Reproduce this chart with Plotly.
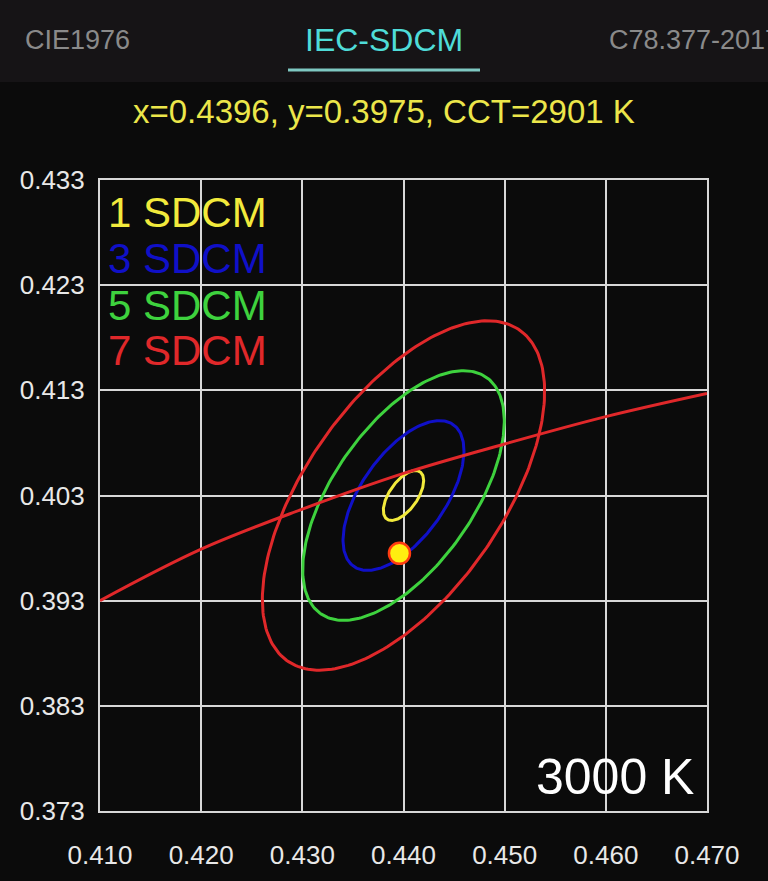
import numpy as np
import plotly.graph_objects as go

# measured point
point_x = [0.4396]
point_y = [0.3975]
title_text = "x=0.4396, y=0.3975, CCT=2901 K"

# 3000 K SDCM ellipse (IEC metric coefficients)
center_x = 0.440
center_y = 0.403
g11 = 39.0e4
g12 = -19.5e4
g22 = 27.5e4
sdcm_steps = [1, 3, 5, 7]
sdcm_colors = ["#f2ea3c", "#1010c8", "#3ed23e", "#e0282a"]

# planckian locus
locus_x = [0.4100, 0.4200, 0.4300, 0.4400, 0.4500, 0.4600, 0.4700]
locus_y = [0.3930, 0.3979, 0.4017, 0.4051, 0.4079, 0.4105, 0.4127]

x_ticks = [0.410, 0.420, 0.430, 0.440, 0.450, 0.460, 0.470]
y_ticks = [0.373, 0.383, 0.393, 0.403, 0.413, 0.423, 0.433]

tabs = ["CIE1976", "IEC-SDCM", "C78.377-2017"]


def ellipse(n):
    # points where g11 dx^2 + 2 g12 dx dy + g22 dy^2 = n^2
    G = np.array([[g11, g12], [g12, g22]])
    L = np.linalg.cholesky(G)
    t = np.linspace(0, 2 * np.pi, 241)
    circ = np.vstack([np.cos(t), np.sin(t)]) * n
    d = np.linalg.solve(L.T, circ)
    return center_x + d[0], center_y + d[1]


fig = go.Figure()

for n, c in zip(sdcm_steps, sdcm_colors):
    ex, ey = ellipse(n)
    fig.add_trace(go.Scatter(x=ex, y=ey, mode="lines", line=dict(color=c, width=3),
                             hoverinfo="skip", showlegend=False))

fig.add_trace(go.Scatter(x=locus_x, y=locus_y, mode="lines", line=dict(color="#e0282a", width=3, shape="spline"),
                         showlegend=False))

fig.add_trace(go.Scatter(x=point_x, y=point_y, mode="markers",
                         marker=dict(size=21, color="#ffee10", line=dict(color="#ff3c10", width=2.5)),
                         showlegend=False))

# plot area spans px 100..707 horizontally, 180..811 vertically
W, H = 768, 881
L_, R_, T_, B_ = 100, 61, 180, 70
pw = W - L_ - R_
ph = H - T_ - B_


def px(c):
    return (c - L_) / pw


def py(r):
    return (H - B_ - r) / ph


# top bar
fig.add_shape(type="rect", xref="paper", yref="paper", x0=px(0), x1=px(W), y0=py(82), y1=py(0),
              fillcolor="#161416", line_width=0, layer="below")
fig.add_shape(type="line", xref="paper", yref="paper", x0=px(288), x1=px(480), y0=py(70), y1=py(70),
              line=dict(color="#7ec8c2", width=3))

fig.add_annotation(text=tabs[0], xref="paper", yref="paper", x=px(77), y=py(40), showarrow=False,
                   font=dict(size=27, color="#8a8a8a"), xanchor="center", yanchor="middle")
fig.add_annotation(text=tabs[1], xref="paper", yref="paper", x=px(384), y=py(40), showarrow=False,
                   font=dict(size=32, color="#4fdcd8"), xanchor="center", yanchor="middle")
fig.add_annotation(text=tabs[2], xref="paper", yref="paper", x=px(607), y=py(40), showarrow=False,
                   font=dict(size=27, color="#8a8a8a"), xanchor="left", yanchor="middle")

fig.add_annotation(text=title_text, xref="paper", yref="paper", x=px(384), y=py(112), showarrow=False,
                   font=dict(size=33, color="#ece64a"), xanchor="center", yanchor="middle")

# legend labels
label_rows = [212, 258, 305, 350]
for n, c, r in zip(sdcm_steps, sdcm_colors, label_rows):
    fig.add_annotation(text=f"{n} SDCM", xref="paper", yref="paper", x=px(106), y=py(r), showarrow=False,
                       font=dict(size=42, color=c), xanchor="left", yanchor="middle")

fig.add_annotation(text="3000 K", xref="paper", yref="paper", x=px(696), y=py(777), showarrow=False,
                   font=dict(size=50, color="white"), xanchor="right", yanchor="middle")

axis_style = dict(showgrid=True, gridcolor="#d8d8d8", gridwidth=2, showline=True, linecolor="#d8d8d8",
                  linewidth=2, mirror=True, zeroline=False, tickformat=".3f",
                  tickfont=dict(size=26, color="#e8e8e8", family="Liberation Sans"), ticks="")

fig.update_xaxes(range=[0.410, 0.470], tickvals=x_ticks, ticklabelstandoff=20, **axis_style)
fig.update_yaxes(range=[0.373, 0.433], tickvals=y_ticks, ticklabelstandoff=8, **axis_style)

fig.update_layout(width=W, height=H, margin=dict(l=L_, r=R_, t=T_, b=B_),
                  paper_bgcolor="#0b0b0b", plot_bgcolor="#0b0b0b",
                  font=dict(family="Liberation Sans"), showlegend=False)

fig.write_html("out.html", config={"displayModeBar": False},
               post_script="document.body.style.margin='0';document.body.style.background='#0b0b0b';")
